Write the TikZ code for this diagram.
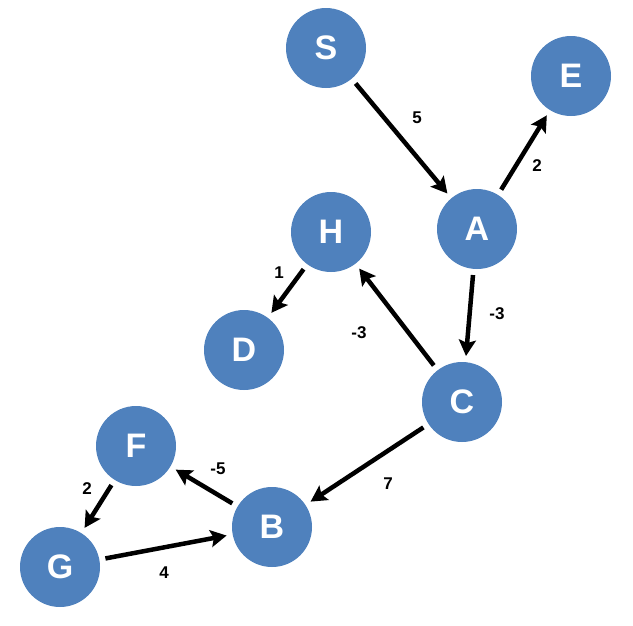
\documentclass[tikz,border=0pt]{standalone}
\usepackage{fontspec}
\setmainfont{Liberation Sans}
\usetikzlibrary{arrows.meta}
\definecolor{nodeblue}{HTML}{4F81BD}
\begin{document}
\begin{tikzpicture}[x=1pt,y=-1pt,
  vert/.style={circle,fill=nodeblue,minimum size=80pt,inner sep=0pt,text=white,font=\fontsize{34}{36}\selectfont\bfseries},
  conn/.style={line width=4.5pt,-{Stealth[length=16pt,width=17pt,inset=3pt]},shorten <=6pt,shorten >=6pt},
  wt/.style={font=\fontsize{17}{19}\selectfont\bfseries}]
\useasboundingbox (0,0) rectangle (633,625);
\node[vert] (S) at (326,48) {S};
\node[vert] (E) at (571,76) {E};
\node[vert] (A) at (477,229) {A};
\node[vert] (H) at (331,232) {H};
\node[vert] (D) at (244,350) {D};
\node[vert] (C) at (462,402) {C};
\node[vert] (F) at (136,446) {F};
\node[vert] (B) at (272,527) {B};
\node[vert] (G) at (60,567) {G};
\draw[conn] (S) -- (A);
\draw[conn] (A) -- (E);
\draw[conn] (A) -- (C);
\draw[conn] (C) -- (H);
\draw[conn] (H) -- (D);
\draw[conn] (C) -- (B);
\draw[conn] (B) -- (F);
\draw[conn] (F) -- (G);
\draw[conn] (G) -- (B);
\node[wt] (w1) at (417,118) {5};
\node[wt] (w2) at (537,166) {2};
\node[wt] (w3) at (497,314) {-3};
\node[wt] (w4) at (359,333) {-3};
\node[wt] (w5) at (279,273) {1};
\node[wt] (w6) at (388,484) {7};
\node[wt] (w7) at (218,469) {-5};
\node[wt] (w8) at (87,489) {2};
\node[wt] (w9) at (164,573) {4};
\end{tikzpicture}
\end{document}
